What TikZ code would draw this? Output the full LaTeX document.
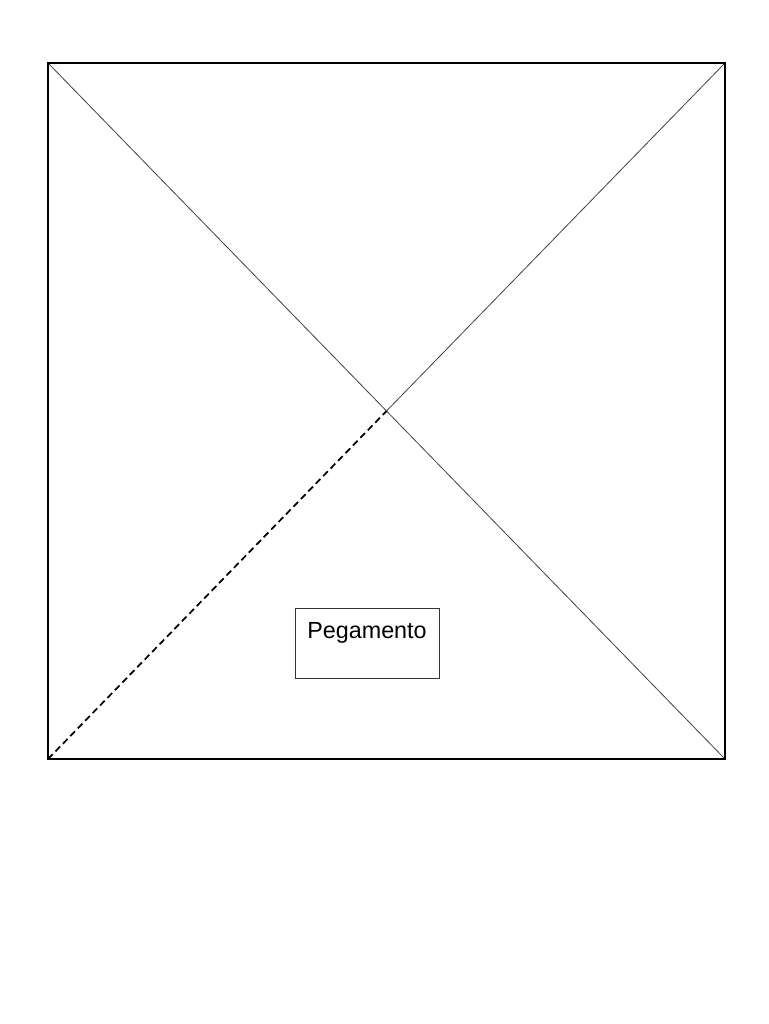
\documentclass[tikz,border=0pt]{standalone}
\usepackage{fontspec}
\setmainfont{Liberation Sans}
\begin{document}
\begin{tikzpicture}[x=0.75pt,y=-0.75pt,
  frame/.style={draw=black,line width=1.1pt},
  diag/.style={draw=black!75,line width=0.6pt},
  glue/.style={draw=black,line width=1.3pt,dash pattern=on 5pt off 3pt},
  labelbox/.style={draw=black!80,line width=0.6pt,minimum width=108pt,minimum height=52.5pt,inner sep=0pt}]
\useasboundingbox (0,0) rectangle (768,1024);
\coordinate (tl) at (48,63);
\coordinate (tr) at (725,63);
\coordinate (bl) at (48,759);
\coordinate (br) at (725,759);
\coordinate (c) at (386.5,411);
\draw[diag] (tl) -- (br);
\draw[diag] (c) -- (tr);
\draw[glue] (bl) -- (c);
\draw[frame] (tl) -- (tr) -- (br) -- (bl) -- cycle;
\node[labelbox] (box) at (367,643) {};
\node[font=\fontsize{17.5pt}{20pt}\selectfont, anchor=base] (lbl) at (367,638) {Pegamento};
\end{tikzpicture}
\end{document}
